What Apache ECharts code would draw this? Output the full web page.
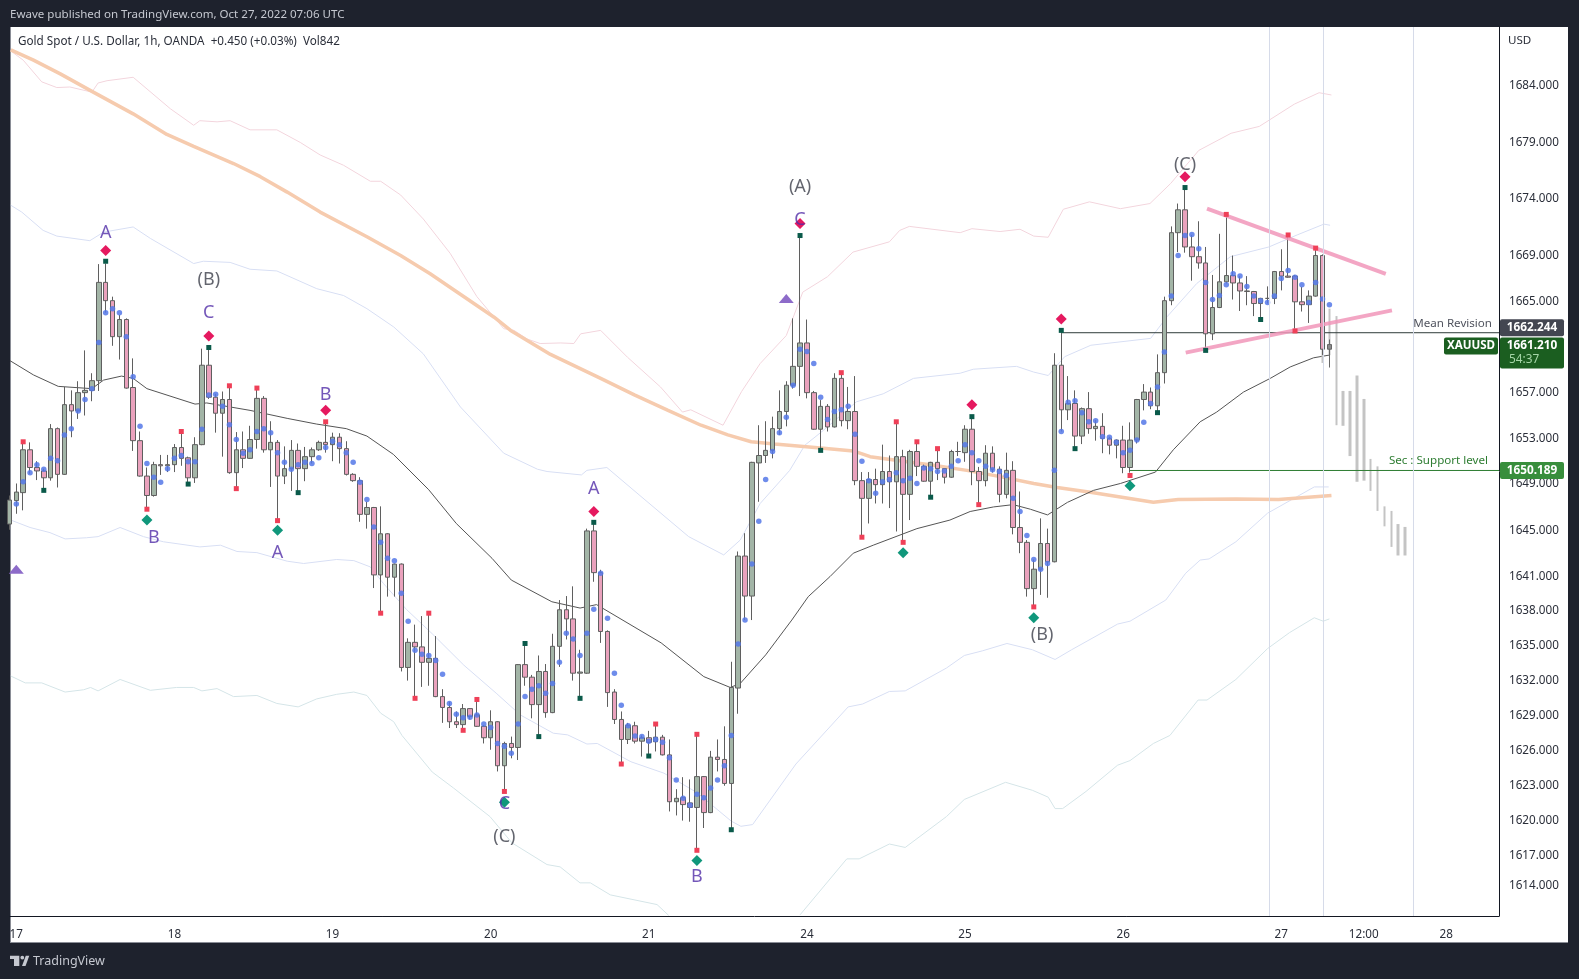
<!DOCTYPE html>
<html lang="en">
<head>
<meta charset="UTF-8">
<title>XAUUSD 1h</title>
<script src="https://cdn.jsdelivr.net/npm/echarts@6/dist/echarts.min.js"></script>
<style>
  html, body { margin: 0; padding: 0; background: #1e222d; overflow: hidden; }
  #panel { position: absolute; left: 10px; top: 27px; width: 1558px; height: 916px; background: #fff; box-shadow: inset 1px 0 0 #8a8d96, inset 0 -1px 0 #8a8d96; }
  #main { position: absolute; left: 0; top: 0; width: 1579px; height: 979px; }
</style>
</head>
<body>
<div id="panel"></div>
<div id="main"></div>
<script>
// candles, one value per hourly bar
var opens = [
  1645.5,1647.55,1648.25,1652,1650.45,1650.15,1649.55,1653.85,1649.85,1655.95,
  1655.4,1657,1657.2,1658.05,1666.65,1665.05,1661.9,1663.4,1657.45,1652.8,
  1649.7,1648,1650.7,1650.6,1650.7,1652.2,1651.3,1649.55,1652.45,1659.4,
  1656.6,1655.2,1656.4,1650,1652,1651.25,1652.9,1656.5,1652,1652.65,
  1649.7,1650.35,1651.95,1650.35,1651.4,1652,1652.65,1652.45,1653.1,1652.1,
  1649.85,1649.3,1646.35,1646.95,1641.05,1644.65,1640.85,1642,1632.95,1635.15,
  1634.75,1633.4,1633.75,1630.4,1629.45,1628.2,1627.95,1629.35,1628.8,1627.8,
  1626.8,1628.2,1624.35,1626.3,1625.95,1633.2,1632.1,1629.7,1632.6,1629,
  1634.8,1638,1637.2,1632.45,1632.45,1644.9,1641.25,1636.1,1630.8,1628.4,
  1626.65,1627.85,1626.5,1626.8,1626.45,1626.85,1625.3,1621.2,1621.55,1621.1,
  1620.7,1623.4,1620.25,1625.1,1624.9,1622.8,1631.15,1642.7,1639.2,1650.85,
  1651.5,1651.95,1653.85,1655.35,1657.65,1659.3,1661.35,1657,1653.8,1655.8,
  1654,1658.25,1654.55,1655.35,1649.3,1647.75,1649.4,1648.95,1650.1,1649.2,
  1651.4,1648.1,1651.85,1650.55,1649.25,1650.9,1650.35,1649.6,1651.85,1651.75,
  1653.8,1650.1,1649.3,1651.7,1650.3,1648.1,1650.2,1645.2,1643.9,1639.85,
  1641.55,1643.8,1642.2,1659.4,1655.5,1656.05,1653.2,1655.6,1653.85,1654.05,
  1653,1652.4,1652.85,1650.45,1652.85,1656.4,1657.05,1655.85,1658.75,1665.05,
  1671,1673,1669.75,1668.9,1668.35,1662.15,1664.45,1666.7,1667.25,1666.6,
  1665.9,1665.85,1664.8,1665.25,1665.25,1667.6,1667.2,1667.2,1664.95,1664.7,
  1665.45,1669,1660.8
];
var closes = [
  1647.6,1648.3,1652,1650.45,1650.15,1649.55,1653.85,1649.85,1655.95,1655.4,
  1657,1657.2,1658.05,1666.65,1665.05,1661.9,1663.4,1657.4,1652.8,1649.7,
  1648,1650.7,1650.6,1650.7,1652.2,1651.25,1649.55,1652.45,1659.4,1656.6,
  1655.2,1656.4,1650,1652,1651.25,1652.9,1656.5,1652,1652.65,1649.7,
  1650.35,1651.95,1650.35,1651.4,1652,1652.65,1652.45,1653.1,1652.1,1649.85,
  1649.3,1646.35,1646.95,1641.05,1644.65,1640.85,1642,1632.95,1635.15,1634.75,
  1633.4,1633.75,1630.4,1629.45,1628.2,1627.95,1629.35,1628.65,1627.8,1626.8,
  1628.2,1624.35,1626.3,1625.95,1633.2,1632.1,1629.7,1632.6,1629,1634.8,
  1638,1637.2,1632.45,1632.55,1644.9,1641.25,1636.1,1630.75,1628.4,1626.65,
  1627.9,1626.5,1626.8,1626.4,1626.85,1625.3,1621.2,1621.5,1620.95,1620.7,
  1623.4,1620.25,1625.1,1624.9,1622.8,1631.2,1642.7,1639.2,1650.9,1651.5,
  1651.95,1653.85,1655.35,1657.65,1659.3,1661.35,1657,1653.8,1655.8,1654,
  1658.25,1654.55,1655.35,1649.3,1647.75,1649.4,1648.95,1650.1,1649.2,1651.4,
  1648.1,1651.85,1650.55,1649.25,1650.9,1650.35,1649.6,1651.85,1651.85,1653.8,
  1650.1,1649.3,1651.7,1650.3,1648.1,1650.2,1645.2,1643.9,1639.85,1641.55,
  1643.8,1642.2,1659.4,1655.5,1656.05,1653.2,1655.6,1653.85,1654.05,1653,
  1652.4,1652.85,1650.45,1652.85,1656.4,1657.05,1655.85,1658.75,1665.05,1671,
  1673,1669.75,1668.9,1668.35,1662.15,1664.45,1666.7,1667.25,1666.6,1665.9,
  1665.85,1664.8,1665.25,1665.25,1667.6,1667.2,1667.1,1664.95,1664.7,1665.45,
  1669,1660.8,1661.21
];
var lows = [
  1645,1646.4,1646.7,1649.9,1649.35,1648.55,1649.3,1648.7,1649.8,1653.1,
  1654.7,1655,1656.25,1657.15,1664,1661.1,1659.9,1657.35,1651.9,1649.65,
  1646.85,1647.9,1649.8,1650.05,1650.05,1650.6,1649.05,1649.1,1652.4,1656.45,
  1653.5,1651.4,1649.9,1648.7,1650.4,1651.2,1652.1,1651.75,1648.75,1645.9,
  1649,1648.4,1648.4,1649.25,1650.8,1651.9,1651.75,1651,1650.8,1649.75,
  1649.2,1645.7,1645.1,1639.9,1637.85,1639.15,1639.15,1632.6,1631.8,1630.3,
  1631.25,1631.35,1630.35,1628.1,1627.65,1627.65,1627.6,1628.4,1627.75,1626.3,
  1625.75,1623.85,1622.15,1625,1624.85,1631.35,1628.5,1627.05,1628.55,1628.95,
  1633,1635.4,1631.8,1630.3,1632.4,1640.45,1635.1,1629.5,1628,1624.55,
  1626.25,1626.3,1625.15,1625.3,1625.6,1625.25,1620.35,1620,1619.55,1619.45,
  1617,1618.9,1620.2,1623.85,1622.6,1618.75,1628.9,1637.1,1637.1,1647.45,
  1650.85,1651.25,1653.3,1654.05,1657.35,1656.7,1656.5,1653.75,1652,1653.6,
  1653.95,1654.05,1653.8,1648.9,1644.4,1645.55,1647.3,1647.3,1646.9,1644.85,
  1644,1645.85,1649.7,1649.2,1647.9,1649.35,1649.05,1649.55,1651.45,1650.95,
  1648.9,1647.3,1648.8,1650,1647.4,1647.75,1644.6,1642.95,1639.15,1638.25,
  1639.3,1639.05,1642.15,1653.6,1654.6,1652.2,1652.5,1653.4,1652.8,1651.7,
  1651.6,1651.25,1649.95,1650,1652.55,1655.45,1655.55,1655.3,1657.8,1664.65,
  1669.3,1669.25,1666.8,1667.85,1660.8,1661.6,1664.4,1666.55,1665.15,1664.15,
  1664.65,1663.7,1663.5,1664.8,1664.75,1665.95,1667.05,1662.45,1664.1,1663.1,
  1665.4,1660.3,1659.2
];
var highs = [
  1648,1649.05,1652.7,1652.65,1651,1650.35,1654.25,1653.95,1657.5,1657.2,
  1658,1660.7,1658.7,1668.25,1668.3,1665.4,1663.8,1663.5,1660,1653.6,
  1650.45,1650.95,1651.55,1651.55,1652.5,1653.5,1651.4,1653.1,1660.85,1660.85,
  1656.9,1657.1,1657.55,1653.55,1653.6,1654.1,1657.35,1656.7,1654.5,1652.85,
  1652.3,1652.85,1652.55,1652.25,1652.2,1652.8,1654.4,1653.5,1653.45,1652.75,
  1649.95,1649.6,1647.45,1647,1647.05,1644.7,1642.05,1642.05,1635.5,1636.7,
  1637.45,1637.7,1635.7,1631.05,1629.95,1629.1,1629.75,1629.4,1630.1,1627.9,
  1629.2,1628.25,1626.45,1626.9,1633.25,1635.05,1632.3,1634,1633.25,1635.9,
  1638.85,1639.2,1640.05,1634.5,1645.1,1645.65,1641.5,1636.2,1631.05,1629.1,
  1628.1,1628.2,1627,1627.4,1628,1627.05,1626.65,1622.3,1623.35,1623.15,
  1627.05,1623.45,1625.65,1626.65,1627.8,1633.45,1643.1,1644.7,1650.95,1654.15,
  1654.5,1654.9,1657.2,1658,1663.5,1670.7,1663.4,1657.15,1656.35,1656,
  1658.7,1658.7,1657.5,1658.45,1650.05,1650.05,1650.35,1652.45,1651.5,1654.4,
  1652,1652,1652.65,1650.7,1650.95,1652.05,1650.4,1652,1652.7,1654.15,
  1654.85,1650.5,1652.4,1652.3,1650.55,1651.75,1651,1648.35,1644.1,1642.4,
  1646,1645.1,1660.45,1662.4,1658.45,1657.2,1655.7,1657.05,1654.6,1655.2,
  1653.15,1652.9,1654.1,1654.4,1656.45,1657.75,1657.45,1660.35,1665.4,1671.55,
  1673.55,1674.9,1670.8,1672,1669.75,1667.3,1670.9,1672.5,1669,1667.2,
  1667.2,1665.9,1665.3,1666.3,1667.65,1669.55,1670.8,1667.3,1666.25,1665.95,
  1669.6,1669.1,1661.65
];
// blue indicator dot of each bar
var dots = [
  null,1647.25,1649.2,1650,1650.7,1650.3,1651.25,1651.05,1653.3,1653.85,
  1655.4,1656.4,1657.35,1661.4,1664,1664.35,1664,1661.9,1658.4,1654.05,
  1650.8,1649.6,1649.15,1650.35,1651.25,1651.5,1650.95,1650.95,1653.8,1656.8,
  1656.85,1655.8,1654.2,1652.9,1651.7,1652,1653.6,1653.85,1653.5,1651.75,
  1650.9,1650.3,1650.7,1650.9,1650.8,1651.3,1652.2,1652.75,1652.45,1651.75,
  1650.9,1649.15,1647.65,1645.25,1643.9,1642.5,1642.3,1639.45,1637,1634.45,
  1634.1,1634,1633.55,1632.35,1629.8,1628.85,1628.55,1628.6,1628.8,1628,
  1627.7,1626.3,1626.05,1625.45,1628,1630.4,1631.05,1631.35,1630.7,1631.55,
  1633.4,1635.95,1635.45,1634,1635.95,1638.05,1641.2,1637.25,1632.45,1629.65,
  1627.85,1626.95,1626.9,1626.5,1626.65,1626.4,1625.05,1623.1,1621.5,1620.9,
  1621.85,1621.55,1622.4,1623.1,1624.35,1627,1635,1637.1,1642,1645.75,
  1649.4,1651.85,1653.5,1654.85,1657.65,1660.8,1660.6,1659.55,1656.6,1654.65,
  1655.35,1655.5,1655.8,1653.35,1651,1649.3,1648.2,1649.2,1649.4,1650,
  1649.3,1649.5,1649.05,1650.4,1650.35,1650.1,1650.15,1650.55,1651.05,1652.45,
  1651.75,1651.05,1650.55,1650.25,1650.1,1649.75,1647.75,1646.6,1644.5,1642.4,
  1641.55,1642.05,1650.2,1653.6,1656.15,1656.3,1655.25,1654.45,1654.55,1653.15,
  1653.1,1652.65,1651.75,1651.95,1652.85,1654.4,1656.05,1657.5,1660.55,1665.45,
  1669,1670.75,1670.85,1669.6,1666.65,1665.15,1665.5,1666.45,1667.4,1667.2,
  1666.3,1665.45,1665.05,1664.9,1665.45,1667,1667.7,1667.1,1666.45,1664.9,
  1666.65,1665.2,1664.7
];

// grey projected bars: [bar, low, high]
var ghostBars = [[191,1659.6,1660.8],[192,1660.3,1664.35],[193,1654.15,1663.7],[194,1654.1,1657.15],[195,1651.45,1657.15],[196,1649.2,1658.5],[197,1649.3,1656.45],[198,1648.4,1651.2],[199,1646.65,1650.55],[200,1645.3,1647.05],[201,1643.5,1646.65],[202,1642.75,1645.5],[203,1642.75,1645.25]];

// overlay lines: [bar, price]
var maLine = [[0.08,1659.8],[3.5,1658.55],[7.1,1657.55],[12,1657.35],[13.7,1658.1],[16.3,1658.45],[18,1658.25],[20,1657.35],[27,1656],[28.7,1656.1],[35,1655.45],[40.4,1654.75],[44.7,1654.25],[49,1653.85],[52,1653.2],[55.85,1651.6],[61,1648.5],[65,1645.55],[70.2,1642.5],[73,1640.6],[78.9,1638.7],[83,1638.15],[85.4,1638.45],[94.8,1635.1],[101,1632.15],[104.85,1631.2],[106.3,1631.55],[110,1634.05],[113.8,1637.1],[116.2,1639.15],[119.35,1640.9],[122.75,1642.95],[125.65,1643.65],[132,1645.1],[136.8,1645.85],[139.75,1646.6],[143.15,1647],[146,1647.2],[148.5,1646.8],[151,1646.3],[153.9,1647.4],[157.7,1648.45],[161.6,1649.05],[166.7,1650.05],[169.3,1652],[173.2,1654.45],[175.6,1655.3],[179.5,1657.05],[183.4,1658.25],[186.3,1659.25],[189.7,1660.05],[192.1,1660.3]];
var orangeLine = [[0.2,1687],[3.5,1686.1],[7.4,1684.9],[12.2,1683.3],[18,1681.4],[22.9,1679.6],[26.8,1678.55],[32.6,1677.05],[36.5,1675.9],[40.4,1674.55],[45.2,1672.8],[52,1670.65],[56.9,1669],[61.2,1667.4],[66.6,1665.2],[70.5,1663.6],[72.9,1662.45],[78.7,1660.35],[86,1658.25],[90.9,1656.8],[95.8,1655.45],[100.6,1654.15],[104.5,1653.3],[107.9,1652.7],[111.3,1652.5],[118,1652.15],[122.75,1651.9],[125.2,1651.4],[129.5,1651.05],[134.4,1650.65],[139.25,1650.2],[144.1,1649.65],[149,1649.05],[152.4,1648.7],[157,1648.3],[166.4,1647.4],[170,1647.65],[178.4,1647.7],[184.6,1647.65],[192.3,1648]];
var bandTop = [[0.2,1686.9],[2,1686.1],[4.7,1684.2],[6.9,1683.7],[8.8,1683.75],[12,1683.3],[12.9,1684.1],[14.2,1684.3],[18,1684.6],[23.4,1681.85],[26.8,1680.4],[27.7,1680.8],[30.2,1680.7],[32.1,1680.8],[35,1680],[38.9,1680],[42.3,1678.9],[45.2,1677.8],[48.6,1676.9],[52.5,1675.5],[54,1675.5],[56.9,1674.3],[60.2,1672.2],[64.1,1669.2],[68,1665.4],[71.9,1662.6],[73.4,1662.45],[75.3,1661.7],[77.2,1661.3],[80.2,1661.35],[82.1,1661.3],[83.1,1662.15],[86,1662.45],[89.9,1660.1],[94.7,1657.5],[97.9,1655.3],[99.1,1655.5],[103.8,1654.15],[106.5,1657.1],[109.2,1659.55],[113,1662],[115.4,1665.8],[119,1667.15],[122.7,1669.3],[128,1670.2],[129.5,1671.2],[130.9,1671.55],[138.3,1671],[140,1671.35],[144.1,1671.1],[147,1671.3],[149,1670.7],[151.1,1670.6],[153.3,1673.05],[157.1,1673.7],[161.6,1673.1],[165.9,1673.55],[168.9,1675.3],[173,1678.2],[177.7,1679.7],[181.8,1680.3],[186.9,1682.25],[190.5,1683.25],[192.3,1683.05]];
var bandUpper = [[0.2,1673.4],[1.8,1672.8],[4.9,1671.2],[6.9,1670.7],[11.7,1670.3],[13.7,1671.05],[18,1671.5],[20.5,1670.5],[26.8,1668.3],[28.2,1668.5],[32.1,1668.4],[35,1667.8],[38.9,1667.65],[44.7,1666.1],[48.6,1665.5],[52,1664.35],[55.9,1662.75],[60.2,1660.4],[65.6,1655.75],[71.9,1651.7],[76.8,1650.3],[78.2,1650.1],[83.2,1649.8],[84,1650.2],[86.9,1650.45],[91.7,1648],[98.8,1644.4],[103.9,1642.8],[106.3,1644.1],[109.2,1647.3],[113.5,1650.2],[115.7,1652.4],[118.4,1653.7],[123.2,1656.2],[127.1,1656.9],[131.5,1658.25],[138.3,1658.7],[140.2,1659.05],[146.5,1659.3],[149,1658.8],[151.1,1658.5],[153.5,1660.15],[157.3,1661.15],[166,1661.75],[168.4,1663.65],[172.7,1666.55],[177.6,1668.9],[183.2,1669.75],[187.3,1670.8],[191.2,1671.75],[192.1,1671.65]];
var bandLower = [[0.2,1645.85],[3,1645.2],[5.9,1644.75],[8.1,1644.2],[11.2,1644.3],[12.9,1644.4],[16.1,1645.2],[19.5,1644.4],[22.4,1643.95],[27.7,1643.5],[30.7,1643.65],[33.1,1643.1],[36,1643],[40.4,1642.25],[42.8,1642.05],[47.6,1642.4],[50.1,1642.3],[52.5,1641.75],[54.4,1640.3],[57.8,1638],[61.5,1635.9],[66.1,1633.15],[70.9,1630.65],[74.3,1628.8],[79.1,1627.2],[81.2,1627.05],[84,1626.25],[85.5,1626.3],[90.4,1624.7],[95.2,1623.7],[100,1622],[105,1619.5],[106.4,1619.05],[108.1,1619.2],[114.4,1624.5],[122,1629.5],[124.1,1629.75],[128,1630.85],[130.3,1630.9],[136.3,1632.9],[138.9,1634],[141.5,1634.4],[145.1,1635.05],[148.8,1634.5],[152.1,1633.65],[154.5,1634.5],[161.2,1636.75],[163,1637],[168.2,1638.85],[171.1,1641.2],[173.2,1642.35],[174.5,1642.45],[178.4,1643.95],[183,1646.45],[189.8,1648.75],[191.9,1648.75]];
var bandBottom = [[0.2,1632.2],[2.3,1631.6],[4.7,1631.6],[8.1,1630.8],[10.8,1631],[11.8,1631.2],[12.9,1630.9],[16.1,1631.9],[20.5,1630.95],[24.3,1631.2],[26.8,1631.2],[28,1630.9],[30.2,1631.1],[32.6,1630.4],[36,1630.5],[38.9,1629.8],[42,1629.5],[44.7,1630.2],[47.6,1630.6],[50.1,1630.8],[52,1630.5],[54,1628.95],[55.9,1628.2],[57.1,1627],[61.5,1623.8],[64.6,1622.4],[69.9,1619.9],[73.1,1617.6],[78.2,1615.7],[80.1,1615.5],[83,1614.1],[84.5,1614.1],[87.4,1613.05],[94.2,1612.2],[95.9,1611.25],[105,null],[115,1611.3],[121.8,1616.2],[123.6,1616.2],[128,1617.5],[130.3,1617.2],[136.3,1619.9],[138.9,1621.4],[144.9,1622.9],[148.8,1622.2],[151.1,1621.6],[152.1,1620.6],[153.2,1620.6],[156.6,1622.1],[161.2,1624.4],[163,1624.8],[166.4,1626.3],[168.8,1627],[172.9,1630.1],[174.2,1630.1],[178.4,1631.9],[183,1634.6],[186.2,1636],[189.8,1637.3],[191.1,1637],[192,1637.2]];
var trendUpper = [[174.2,1673.1],[200.2,1667.4]];
var trendLower = [[171.1,1660.5],[201.1,1664.2]];

// markers: [bar, price]
var redSquares = [[2,1652.7],[20,1646.8],[25,1653.6],[32,1657.6],[33,1648.6],[36,1657.4],[39,1645.8],[46,1654.45],[54,1637.7],[59,1630.25],[61,1637.7],[66,1627.45],[68,1630.15],[72,1622.1],[89,1624.5],[94,1628],[100,1627.1],[100,1616.95],[121,1658.75],[124,1644.35],[129,1654.45],[130,1643.9],[132,1652.7],[135,1652.1],[141,1647.2],[149,1638.25],[163,1649.75],[177,1672.6],[186,1670.8],[187,1662.4],[190,1669.65]];
var darkSquares = [[5,1648.45],[14,1668.5],[26,1649],[29,1660.95],[42,1648.25],[75,1635.05],[77,1626.9],[83,1630.25],[85,1645.65],[93,1625.2],[105,1618.75],[115,1670.75],[118,1651.95],[134,1647.85],[140,1654.9],[153,1662.45],[155,1652.1],[167,1655.25],[171,1674.95],[174,1660.7],[182,1663.4]];
var redDiamonds = [[14,1669.45],[29,1661.95],[46,1655.45],[85,1646.6],[115,1671.8],[140,1655.95],[153,1663.45],[171,1675.9]];
var tealDiamonds = [[20,1645.85],[39,1644.95],[72,1621.15],[100,1616.05],[130,1643],[149,1637.3],[163,1648.85]];
var triangles = [[1,1641.55],[113,1665.25]];

// wave labels: [bar, price, text]
var minorWaves = [[14,1671,'A'],[21,1644.3,'B'],[29,1664,'C'],[39,1643,'A'],[46,1656.8,'B'],[72,1621,'C'],[85,1648.6,'A'],[100,1614.6,'B'],[115,1672.15,'C']];
var majorWaves = [[29,1666.9,'(B)'],[72,1618.15,'(C)'],[115,1675.05,'(A)'],[150.2,1635.8,'(B)'],[171,1676.9,'(C)']];

// the source scale is logarithmic: tick spots on this linear reading, and what they say
var priceTicks = [1683.85,1678.9,1673.96,1669,1665,1657,1653,1649,1644.96,1640.92,1637.88,1634.84,1631.79,1628.74,1625.68,1622.62,1619.54,1616.47,1613.83];
var priceLabels = ['1684.000','1679.000','1674.000','1669.000','1665.000','1657.000','1653.000','1649.000','1645.000','1641.000','1638.000','1635.000','1632.000','1629.000','1626.000','1623.000','1620.000','1617.000','1614.000'];
var timeTicks = [1,24,47,70,93,116,139,162,185,197,209];
var timeLabels = ['17','18','19','20','21','24','25','26','27','12:00','28'];
var sessionLines = [183.2,191.1,204.2];
var meanRevisionPrice = 1662.244;
var supportPrice = 1650.189;
var lastPrice = 1661.21;

var XMIN = 0.084, XMAX = 216.67;
var FONT = '"Noto Sans", sans-serif';

var candleData = opens.map(function (o, i) {
    var item = { value: [i, o, closes[i], lows[i], highs[i]] };
    if (i === opens.length - 1) {
        item.itemStyle = { color: '#8c8c8c', color0: '#8c8c8c', borderColor: '#666', borderColor0: '#666' };
    }
    return item;
});
var ghostData = ghostBars.map(function (b) { return [b[0], b[1], b[2], b[1], b[2]]; });
var dotData = [];
dots.forEach(function (d, i) { if (d !== null) dotData.push([i, d]); });

function overlay(name, data, color, width, z) {
    return {
        name: name, type: 'line', data: data, showSymbol: false, silent: true, z: z || 1,
        lineStyle: { color: color, width: width }, itemStyle: { color: color }
    };
}
function markers(name, data, symbol, size, color, z) {
    return {
        name: name, type: 'scatter', data: data, symbol: symbol, symbolSize: size, silent: true, z: z || 5,
        itemStyle: { color: color, opacity: 1 }
    };
}
function waveText(name, data, color, size) {
    return {
        name: name, type: 'scatter', data: data, symbolSize: 1, silent: true, z: 6, clip: false,
        itemStyle: { color: 'rgba(0,0,0,0)' },
        label: {
            show: true, position: 'inside', color: color, fontFamily: FONT, fontSize: size,
            formatter: function (p) { return p.data[2]; }
        }
    };
}

var chart = echarts.init(document.getElementById('main'));
chart.setOption({
    animation: false,
    backgroundColor: 'transparent',
    grid: { left: 10, top: 27, width: 1489, height: 889 },
    xAxis: {
        type: 'value', min: XMIN, max: XMAX, splitLine: { show: false },
        axisLine: { show: true, onZero: false, lineStyle: { color: '#131722', width: 1 } },
        axisTick: { show: false },
        axisLabel: {
            customValues: timeTicks, color: '#2a2e39', fontFamily: FONT, fontSize: 11.7, margin: 13,
            formatter: function (v) { return timeLabels[timeTicks.indexOf(v)]; }
        }
    },
    yAxis: {
        type: 'value', position: 'right', min: 1611.2, max: 1689, splitLine: { show: false },
        axisLine: { show: true, onZero: false, lineStyle: { color: '#131722', width: 1 } },
        axisTick: { show: false },
        axisLabel: {
            customValues: priceTicks, color: '#2a2e39', fontFamily: FONT, fontSize: 11.7, margin: 10,
            formatter: function (v) { return priceLabels[priceTicks.indexOf(v)]; }
        }
    },
    series: [
        Object.assign(overlay('sessions', [], '#d3d9e8', 1), {
            markLine: {
                silent: true, symbol: 'none', label: { show: false },
                lineStyle: { color: '#d6dbe9', width: 1, type: 'solid' },
                data: sessionLines.map(function (x) { return { xAxis: x }; })
            }
        }),
        overlay('band top', bandTop, '#f3d5dd', 1),
        overlay('band upper', bandUpper, '#d8dff4', 1),
        overlay('band lower', bandLower, '#d8dff4', 1),
        overlay('band bottom', bandBottom, '#d5e5e8', 1),
        overlay('orange', orangeLine, '#f6cbae', 3.5),
        overlay('ma', maLine, '#555', 1),
        {
            name: 'projection', type: 'candlestick', data: ghostData, barWidth: 3, silent: true, z: 2,
            itemStyle: { color: '#c4c4c4', color0: '#c4c4c4', borderColor: '#c4c4c4', borderColor0: '#c4c4c4', borderWidth: 0 }
        },
        {
            name: 'XAUUSD', type: 'candlestick', data: candleData, barWidth: 5, silent: true, z: 3,
            itemStyle: { color: '#a3b5a7', color0: '#eaa2bd', borderColor: '#5f5f5f', borderColor0: '#5f5f5f', borderWidth: 1 }
        },
        overlay('mean revision', [[153, meanRevisionPrice], [XMAX, meanRevisionPrice]], '#2f3b3a', 1, 3),
        overlay('support', [[163, supportPrice], [XMAX, supportPrice]], '#2e7d32', 1, 3),
        overlay('trend upper', trendUpper, 'rgba(241,150,186,0.85)', 4, 4),
        overlay('trend lower', trendLower, 'rgba(241,150,186,0.85)', 4, 4),
        {
            name: 'dots', type: 'scatter', data: dotData, symbolSize: 5.5, silent: true, z: 4,
            itemStyle: { color: '#5578e8', opacity: 0.85 }
        },
        markers('pivot high', redSquares, 'rect', 5, '#ef4058'),
        markers('pivot low', darkSquares, 'rect', 5, '#0a5a4a'),
        markers('red diamonds', redDiamonds, 'diamond', 11, '#e5195f'),
        markers('teal diamonds', tealDiamonds, 'diamond', 11, '#10977b'),
        markers('triangles', triangles, 'triangle', [15, 9], '#8d6bc9'),
        waveText('minor waves', minorWaves, '#512da8', 18),
        waveText('major waves', majorWaves, '#3c3f4a', 18)
    ]
});

// tags and frame text, placed through the axis scale where they follow a price
function yOf(p) { return chart.convertToPixel({ yAxisIndex: 0 }, p); }
function label(text, x, y, color, size, align, weight) {
    return {
        type: 'text', z: 20,
        style: {
            text: text, x: x, y: y, fill: color, align: align || 'left', verticalAlign: 'middle',
            font: (weight || 'normal') + ' ' + (size || 11.6) + 'px ' + FONT
        }
    };
}
function box(x, y, w, h, color) {
    return { type: 'rect', z: 19, shape: { x: x, y: y, width: w, height: h, r: 2 }, style: { fill: color } };
}
function poly(points) {
    return { type: 'polygon', z: 20, shape: { points: points }, style: { fill: '#c5c8d0' } };
}
var yMean = yOf(meanRevisionPrice), yLast = yOf(lastPrice), ySupport = yOf(supportPrice);
chart.setOption({
    graphic: [
        label('Ewave published on TradingView.com, Oct 27, 2022 07:06 UTC', 10, 15, '#c5c8d0', 11.55),
        label('Gold Spot / U.S. Dollar, 1h, OANDA  +0.450 (+0.03%)  Vol842', 18, 42, '#2a2e39', 11.7),
        label('USD', 1508, 41, '#2a2e39', 11.6),
        label('TradingView', 33, 961, '#c5c8d0', 12.5),
        poly([[10,955.7],[19.3,955.7],[19.3,966],[14,966],[14,959],[10,959]]),
        { type: 'circle', z: 20, shape: { cx: 22.3, cy: 957.6, r: 1.9 }, style: { fill: '#c5c8d0' } },
        poly([[22,966],[25.5,966],[29.3,955.7],[25.8,955.7]]),
        label('Mean Revision', 1492, yMean - 9.5, '#50535e', 11.6, 'right'),
        label('Sec : Support level', 1488, ySupport - 10, '#2e7d32', 11.6, 'right'),
        box(1500, yMean - 13.5, 64, 17, '#434651'),
        label('1662.244', 1532, yMean - 5, '#fff', 11.8, 'center', 'bold'),
        box(1500, yLast - 7, 64, 31, '#1b5e20'),
        label('1661.210', 1532, yLast + 1.5, '#fff', 11.8, 'center', 'bold'),
        label('54:37', 1509, yLast + 15.5, '#a5d6a7', 11.8),
        box(1444, yLast - 7, 54, 17, '#1b5e20'),
        label('XAUUSD', 1471, yLast + 1.5, '#fff', 11.6, 'center', 'bold'),
        box(1500, ySupport - 8.5, 64, 17, '#388e3c'),
        label('1650.189', 1532, ySupport, '#fff', 11.8, 'center', 'bold')
    ]
});
</script>
</body>
</html>
